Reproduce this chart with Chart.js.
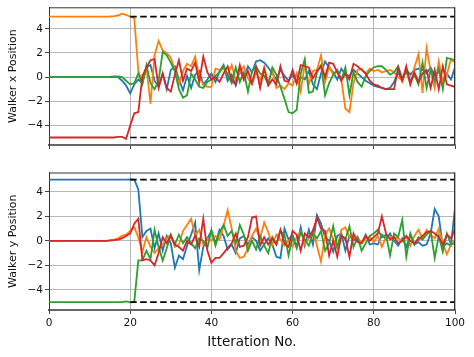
<!DOCTYPE html>
<html><head><meta charset="utf-8">
<script src="https://cdn.jsdelivr.net/npm/chart.js@4"></script>
<style>
html,body{margin:0;padding:0;background:#fff;}
#wrap{position:relative;width:474px;height:357px;background:#fff;}
#c1{position:absolute;left:0;top:0;width:474px;height:160px;}
#c2{position:absolute;left:0;top:160px;width:474px;height:197px;}
</style></head><body>
<div id="wrap"><canvas id="c1" width="474" height="160"></canvas><canvas id="c2" width="474" height="197"></canvas></div>
<script>
const iterations = Array.from({length: 101}, (_, i) => i);
const xTicks = [0, 20, 40, 60, 80, 100];
const yTicks = [-4, -2, 0, 2, 4];
const boundValues = [5, -5];
const boundStart = 20, boundEnd = 100;
const seriesColors = ['#1f77b4', '#ff7f0e', '#2ca02c', '#d62728'];

// Walker x positions
const blueX = [0,0,0,0,0,0,0,0,0,0, 0,0,0,0,0,0.02,0.05,0,-0.3,-0.7,
-1.35,-0.6,-0.2,-0.5,0.8,1.0,-0.3,-0.8,0.3,-1.0,
0.6,0.9,-0.2,-1.1,0.1,-0.9,0.2,0.5,-0.6,-0.2,
0.3,-0.4,0.5,1.0,-0.3,0.2,-0.7,0.6,-0.2,0.9,
0.4,1.3,1.4,1.2,0.8,0.3,-0.2,0.6,0.1,-0.3,
0.2,-0.5,0.0,-0.2,0.5,-0.6,-1.0,0.3,1.3,0.8,
0.4,-0.2,0.7,0.2,0.1,0.6,0.3,0.0,-0.3,-0.5,
-0.7,-0.8,-0.9,-1.0,-0.9,-0.4,0.4,-0.3,0.6,0.2,
0.6,0.7,0.6,0.3,0.8,0.1,0.5,-0.4,0.3,-0.2,
0.8];
const orangeX = [5,5,5,5,5,5,5,5,5,5, 5,5,5,5,5,5.02,5.05,5.1,5.25,5.15,
5.0,4.9,0.5,-0.4,0.8,-2.2,1.8,3.0,2.2,2.0,
1.6,0.6,-0.6,0.5,1.1,0.9,1.7,0.0,-0.6,-0.8,
-0.8,0.7,0.6,0.7,0.2,1.0,-0.3,0.4,0.9,-0.1,
-0.6,0.4,-0.3,0.8,-0.5,0.6,-0.9,-0.7,-1.0,-0.5,
-0.7,0.3,-1.2,1.1,-0.6,0.5,0.6,1.8,-0.4,0.9,
0.2,0.5,-0.2,-2.6,-2.9,-0.5,0.6,0.7,0.3,0.7,
0.5,0.6,0.4,0.5,0.6,0.4,0.0,-0.3,0.5,-0.6,
0.8,1.9,-1.3,2.4,0.5,-0.9,1.3,-0.5,0.2,1.5,
1.2];
const greenX = [0,0,0,0,0,0,0,0,0,0, 0,0,0,0,0,0,0.02,0.05,0,-0.3,
-0.6,-0.5,0.3,-0.6,1.0,-0.5,-1.0,-0.3,2.1,1.8,
1.2,0.5,-1.0,-1.7,-1.5,0.3,-0.2,-0.8,-0.9,-0.4,
-0.2,0.1,0.4,0.9,0.2,-0.5,0.8,-0.4,0.4,-1.2,
0.5,0.9,0.3,0.1,-0.6,0.8,0.2,-0.8,-1.8,-2.9,
-3.0,-2.7,0.3,1.5,-1.3,-1.2,0.4,1.0,-1.5,-0.5,
0.2,0.6,-0.2,0.8,-1.5,0.4,-0.4,-0.8,0.1,0.5,
0.8,0.9,0.9,0.6,0.2,0.4,0.9,-0.1,0.5,-0.3,
0.2,-0.6,1.2,-0.9,0.6,-0.3,0.7,-1.0,1.6,1.5,
1.4];
const redX = [-5,-5,-5,-5,-5,-5,-5,-5,-5,-5, -5,-5,-5,-5,-5,-5,-5,-4.95,-4.95,-5.1,
-4.0,-3.0,-2.9,0.1,0.8,1.4,1.5,-0.9,0.3,-0.9,
-1.2,0.2,1.4,-0.3,0.7,0.5,1.2,-0.4,1.7,0.4,
-0.2,0.0,-0.4,0.3,0.9,-0.3,-0.6,1.0,-0.2,0.5,
-0.5,0.8,-0.9,0.7,-0.7,-0.2,-0.6,0.9,-0.3,-0.4,
0.6,-0.5,1.0,0.9,0.8,-0.1,0.5,0.9,0.0,1.2,
1.1,0.4,-0.3,0.3,-0.2,1.1,0.9,0.6,0.3,-0.3,
-0.6,-0.7,-0.9,-1.0,-1.0,-1.0,0.8,-0.3,0.9,-0.6,
0.4,-0.4,0.3,0.6,-0.9,0.6,-1.0,0.9,-0.6,-0.7,
-0.8];

// Walker y positions
const blueY = [5,5,5,5,5,5,5,5,5,5, 5,5,5,5,5,5,5,5,5,5,
5.02,5.0,4.2,0.3,0.8,1.0,-0.6,0.6,-0.8,0.4,
-0.2,-2.2,-1.2,-1.5,-0.4,0.5,1.5,-2.4,-0.5,0.2,
0.8,-0.2,0.9,0.4,-0.7,-0.3,-1.0,0.2,0.4,-0.3,
0.3,0.0,-0.8,-0.3,0.2,-0.3,-1.3,-1.4,1.0,0.1,
0.5,-0.5,1.1,-0.4,0.9,-0.3,2.1,1.4,0.3,0.0,
-0.9,0.4,0.6,-0.8,0.4,0.1,0.0,-0.2,0.5,-0.3,
-0.2,-0.3,0.5,0.1,0.6,0.0,-0.4,0.2,-0.5,0.5,
-0.3,-0.1,-0.4,-0.3,0.6,2.6,2.0,-0.5,-0.2,-0.4,
2.7];
const orangeY = [0,0,0,0,0,0,0,0,0,0, 0,0,0,0,0,0.05,0.1,0.2,0.4,0.5,
0.8,1.1,0.3,-0.9,0.3,-0.5,-1.0,-0.6,-0.3,0.2,
0.5,-0.5,-0.3,0.8,1.3,1.8,0.4,0.9,-0.3,0.2,
0.0,0.4,0.1,1.2,2.5,1.0,-0.8,-1.4,-1.3,-0.6,
0.4,1.0,0.2,1.5,0.7,-0.3,0.5,0.1,-0.4,0.0,
-0.5,0.3,0.8,-0.3,0.2,0.9,-0.4,-1.7,0.5,1.0,
0.1,-0.6,0.9,1.1,0.3,0.2,0.3,-0.2,0.2,0.3,
-0.1,0.4,-0.5,0.3,0.3,0.3,0.2,0.0,0.3,-0.4,
0.4,0.9,0.2,0.9,0.5,0.2,1.0,-0.2,-1.1,-0.3,
0.1];
const greenY = [-5,-5,-5,-5,-5,-5,-5,-5,-5,-5, -5,-5,-5,-5,-5,-5,-5,-5,-5,-4.95,
-5.02,-5.0,-1.6,-1.6,-0.8,-1.5,0.9,-0.5,-1.6,-0.6,
0.5,-0.3,0.5,-0.2,0.3,-0.2,-0.6,0.2,0.0,-0.6,
0.9,-0.4,0.7,1.3,0.4,0.8,-0.2,1.3,0.5,-0.8,
0.0,-0.7,0.4,-0.4,-1.0,0.3,-0.3,0.8,0.5,-1.2,
0.3,-0.6,0.7,0.1,-0.4,0.6,0.2,0.8,-0.8,-0.2,
1.2,-0.5,0.5,0.1,1.2,-0.5,0.3,-0.8,-0.2,0.4,
0.6,0.9,0.3,0.5,-1.2,0.6,0.3,1.7,-1.3,0.6,
-0.3,0.3,0.1,0.5,0.8,-1.4,0.4,-0.9,0.6,-0.3,
-0.2];
const redY = [0,0,0,0,0,0,0,0,0,0, 0,0,0,0,0,0.02,0.05,0.1,0.2,0.4,
0.6,1.4,1.8,-1.6,-1.5,-1.6,-2.0,-1.0,0.3,-0.2,
0.4,-0.3,-0.5,-0.8,0.0,-0.3,0.4,-0.5,1.8,-0.8,
-1.8,-1.4,-1.4,-1.0,-0.6,-0.2,0.6,-0.5,-0.4,0.3,
1.9,2.0,-0.4,0.3,-0.3,0.2,-0.3,0.9,-0.2,-0.5,
0.8,0.5,-0.8,0.6,0.3,0.8,1.9,1.0,0.8,-1.2,
0.0,-1.3,0.4,0.2,-1.3,0.6,-0.1,-0.2,0.4,0.0,
0.3,0.6,2.0,0.6,0.1,0.3,-0.2,0.0,0.4,0.0,
-0.2,0.1,0.4,0.7,0.8,0.6,0.3,-0.3,0.5,0.2,
1.0];

const FONT = "'DejaVu Sans', 'Liberation Sans', sans-serif";

const framePlugin = {
  id: 'frame',
  afterDraw(chart) {
    const {ctx, chartArea: a} = chart;
    ctx.save();
    ctx.strokeStyle = '#333';
    ctx.lineWidth = 1;
    ctx.beginPath();
    ctx.moveTo(a.left, a.top + 0.5);
    ctx.lineTo(a.right, a.top + 0.5);
    ctx.moveTo(a.right - 0.5, a.top);
    ctx.lineTo(a.right - 0.5, a.bottom);
    ctx.stroke();
    ctx.restore();
  }
};

function makeChart(id, series, yTitle, isBottom, yMin, yMax, padTop, xH) {
  const datasets = series.map((s, k) => ({
    data: iterations.map((x, i) => ({x: x, y: s[i]})),
    borderColor: seriesColors[k],
    borderWidth: 1.8,
    pointRadius: 0,
    tension: 0,
    fill: false,
    order: 4 - k
  }));
  boundValues.forEach(v => datasets.push({
    data: [{x: boundStart, y: v}, {x: boundEnd, y: v}],
    borderColor: '#000',
    borderWidth: 1.7,
    borderDash: [6.5, 3.5],
    pointRadius: 0,
    fill: false,
    order: 0
  }));
  return new Chart(document.getElementById(id), {
    type: 'line',
    data: {datasets},
    options: {
      responsive: false,
      animation: false,
      devicePixelRatio: 1,
      layout: {padding: {top: padTop, right: 19, left: 0, bottom: 0}},
      plugins: {legend: {display: false}, tooltip: {enabled: false}},
      scales: {
        x: {
          type: 'linear', min: 0, max: 100,
          afterBuildTicks: s => { s.ticks = xTicks.map(v => ({value: v})); },
          afterFit: s => { s.height = xH; s.paddingLeft = 0; s.paddingRight = 0; },
          grid: {color: '#b0b0b0', lineWidth: 0.9, tickColor: '#444', tickLength: 4, tickWidth: 1, drawTicks: true},
          border: {color: '#666', width: 2},
          ticks: {display: isBottom, padding: 3, color: '#111', font: {family: FONT, size: 10.5}, maxRotation: 0, autoSkip: false},
          title: {display: isBottom, text: 'Itteration No.', color: '#111', font: {family: FONT, size: 13.5}, padding: {top: 0, bottom: 6.2}}
        },
        y: {
          type: 'linear', min: yMin, max: yMax,
          afterBuildTicks: s => { s.ticks = yTicks.map(v => ({value: v})); },
          afterFit: s => { s.width = 49; s.paddingTop = 0; s.paddingBottom = 0; },
          grid: {color: '#b0b0b0', lineWidth: 0.9, tickColor: '#444', tickLength: 4, tickWidth: 1, drawTicks: true},
          border: {color: '#333', width: 1},
          ticks: {padding: 2, color: '#111', font: {family: FONT, size: 10.5},
            callback: v => (v < 0 ? '\u2212' + Math.abs(v) : String(v))},
          title: {display: true, text: yTitle, color: '#111', font: {family: FONT, size: 11}, padding: {top: 6.4, bottom: 0}}
        }
      }
    },
    plugins: [framePlugin]
  });
}

makeChart('c1', [blueX, orangeX, greenX, redX], 'Walker x Position', false, -5.62, 5.78, 7.3, 15);
makeChart('c2', [blueY, orangeY, greenY, redY], 'Walker y Position', true, -5.65, 5.58, 12.5, 47);
</script>
</body></html>
